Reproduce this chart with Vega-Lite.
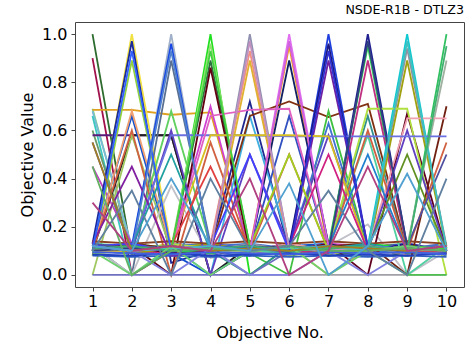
{
"$schema": "https://vega.github.io/schema/vega-lite/v6.json",
"width": 389, "height": 265,
"autosize": {"type": "none"},
"padding": {"left": 75, "top": 22, "right": 10, "bottom": 66},
"title": {"text": "NSDE-R1B - DTLZ3", "anchor": "end", "fontSize": 12.6, "fontWeight": "normal", "font": "DejaVu Sans", "color": "#000", "offset": 5, "dx": 0},
"config": {"view": {"stroke": "#444", "strokeWidth": 1}, "font": "DejaVu Sans",
 "axis": {"grid": false, "domain": false, "tickColor": "#444", "tickSize": 4, "labelFontSize": 16, "titleFontSize": 16, "titleFontWeight": "normal", "labelColor": "#000", "titleColor": "#000", "labelFont": "DejaVu Sans", "titleFont": "DejaVu Sans"}},
"data": {"values": [
{"s":1,"1":1.0,"2":0.08,"3":0.12,"4":0.1,"5":0.09,"6":0.11,"7":0.13,"8":0.1,"9":0.08,"10":0.12},
{"s":2,"1":0.9,"2":0.0,"3":0.1,"4":0.12,"5":0.1,"6":0.08,"7":0.11,"8":0.09,"9":0.12,"10":0.1},
{"s":3,"1":0.69,"2":0.1,"3":0.13,"4":0.08,"5":0.12,"6":0.1,"7":0.09,"8":0.12,"9":0.11,"10":0.09},
{"s":4,"1":0.68,"2":0.12,"3":0.09,"4":0.11,"5":0.1,"6":0.13,"7":0.08,"8":0.1,"9":0.12,"10":0.11},
{"s":5,"1":0.66,"2":0.0,"3":0.11,"4":0.1,"5":0.13,"6":0.09,"7":0.12,"8":0.08,"9":0.1,"10":0.13},
{"s":6,"1":0.45,"2":0.13,"3":0.1,"4":0.09,"5":0.11,"6":0.12,"7":0.1,"8":0.13,"9":0.09,"10":0.1},
{"s":7,"1":0.6,"2":0.09,"3":0.12,"4":0.13,"5":0.08,"6":0.1,"7":0.11,"8":0.12,"9":0.13,"10":0.08},
{"s":8,"1":0.685,"2":0.685,"3":0.665,"4":0.675,"5":0.1,"6":0.12,"7":0.09,"8":0.11,"9":0.1,"10":0.12},
{"s":9,"1":0.58,"2":0.58,"3":0.58,"4":0.0,"5":0.1,"6":0.11,"7":0.12,"8":0.1,"9":0.09,"10":0.11},
{"s":10,"1":0.1,"2":0.58,"3":0.58,"4":0.0,"5":0.12,"6":0.1,"7":0.11,"8":0.09,"9":0.12,"10":0.1},
{"s":11,"1":0.1,"2":1.0,"3":0.12,"4":0.09,"5":0.1,"6":0.11,"7":0.08,"8":0.12,"9":0.1,"10":0.09},
{"s":12,"1":0.13,"2":0.97,"3":0.05,"4":0.1,"5":0.12,"6":0.09,"7":0.11,"8":0.1,"9":0.13,"10":0.1},
{"s":13,"1":0.08,"2":0.89,"3":0.1,"4":0.12,"5":0.11,"6":0.1,"7":0.09,"8":0.13,"9":0.1,"10":0.11},
{"s":14,"1":0.12,"2":0.66,"3":0.09,"4":0.0,"5":0.1,"6":0.12,"7":0.13,"8":0.09,"9":0.11,"10":0.1},
{"s":15,"1":0.1,"2":0.68,"3":0.11,"4":0.1,"5":0.09,"6":0.13,"7":0.1,"8":0.12,"9":0.08,"10":0.12},
{"s":16,"1":0.0,"2":0.58,"3":0.1,"4":0.11,"5":0.12,"6":0.08,"7":0.1,"8":0.11,"9":0.12,"10":0.09},
{"s":17,"1":0.11,"2":0.1,"3":1.0,"4":0.09,"5":0.12,"6":0.1,"7":0.13,"8":0.08,"9":0.1,"10":0.12},
{"s":18,"1":0.09,"2":0.12,"3":0.96,"4":0.1,"5":0.08,"6":0.12,"7":0.1,"8":0.11,"9":0.13,"10":0.1},
{"s":19,"1":0.12,"2":0.0,"3":0.89,"4":0.13,"5":0.1,"6":0.09,"7":0.12,"8":0.1,"9":0.09,"10":0.11},
{"s":20,"1":0.13,"2":0.1,"3":0.68,"4":0.12,"5":0.1,"6":0.11,"7":0.09,"8":0.12,"9":0.1,"10":0.13},
{"s":21,"1":0.12,"2":0.0,"3":0.37,"4":0.07,"5":0.1,"6":0.09,"7":0.12,"8":0.21,"9":0.0,"10":0.1},
{"s":22,"1":0.1,"2":0.11,"3":0.09,"4":1.0,"5":0.0,"6":0.12,"7":0.1,"8":0.13,"9":0.11,"10":0.1},
{"s":23,"1":0.12,"2":0.09,"3":0.11,"4":0.96,"5":0.1,"6":0.1,"7":0.12,"8":0.09,"9":0.1,"10":0.12},
{"s":24,"1":0.09,"2":0.13,"3":0.1,"4":0.89,"5":0.12,"6":0.11,"7":0.08,"8":0.1,"9":0.12,"10":0.1},
{"s":25,"1":0.11,"2":0.1,"3":0.12,"4":0.7,"5":0.09,"6":0.1,"7":0.13,"8":0.12,"9":0.09,"10":0.11},
{"s":26,"1":0.1,"2":0.12,"3":0.0,"4":0.86,"5":0.1,"6":0.13,"7":0.1,"8":0.11,"9":0.1,"10":0.09},
{"s":27,"1":0.1,"2":0.09,"3":0.12,"4":0.1,"5":1.0,"6":0.11,"7":0.1,"8":0.12,"9":0.09,"10":0.1},
{"s":28,"1":0.12,"2":0.1,"3":0.1,"4":0.13,"5":0.93,"6":0.09,"7":0.12,"8":0.1,"9":0.11,"10":0.13},
{"s":29,"1":0.09,"2":0.12,"3":0.11,"4":0.1,"5":0.89,"6":0.12,"7":0.0,"8":0.11,"9":0.1,"10":0.09},
{"s":30,"1":0.11,"2":0.13,"3":0.09,"4":0.12,"5":0.72,"6":0.1,"7":0.11,"8":0.09,"9":0.12,"10":0.1},
{"s":31,"1":0.13,"2":0.1,"3":0.12,"4":0.0,"5":0.66,"6":0.13,"7":0.09,"8":0.12,"9":0.1,"10":0.12},
{"s":32,"1":0.1,"2":0.12,"3":0.1,"4":0.11,"5":0.09,"6":1.0,"7":0.12,"8":0.1,"9":0.13,"10":0.1},
{"s":33,"1":0.12,"2":0.1,"3":0.13,"4":0.09,"5":0.11,"6":0.95,"7":0.1,"8":0.12,"9":0.1,"10":0.11},
{"s":34,"1":0.09,"2":0.11,"3":0.1,"4":0.12,"5":0.1,"6":0.89,"7":0.13,"8":0.09,"9":0.12,"10":0.1},
{"s":35,"1":0.11,"2":0.09,"3":0.12,"4":0.1,"5":0.66,"6":0.72,"7":0.655,"8":0.71,"9":0.1,"10":0.12},
{"s":36,"1":0.13,"2":0.1,"3":0.11,"4":0.12,"5":0.1,"6":0.66,"7":0.1,"8":0.13,"9":0.09,"10":0.11},
{"s":37,"1":0.1,"2":0.11,"3":0.09,"4":0.1,"5":0.12,"6":0.1,"7":1.0,"8":0.11,"9":0.1,"10":0.12},
{"s":38,"1":0.12,"2":0.1,"3":0.12,"4":0.11,"5":0.1,"6":0.12,"7":0.96,"8":0.1,"9":0.13,"10":0.1},
{"s":39,"1":0.09,"2":0.12,"3":0.1,"4":0.13,"5":0.11,"6":0.09,"7":0.89,"8":0.12,"9":0.1,"10":0.11},
{"s":40,"1":0.11,"2":0.13,"3":0.11,"4":0.1,"5":0.09,"6":0.0,"7":0.68,"8":0.1,"9":0.12,"10":0.1},
{"s":41,"1":0.1,"2":0.09,"3":0.13,"4":0.12,"5":0.13,"6":0.11,"7":0.63,"8":0.09,"9":0.11,"10":0.13},
{"s":42,"1":0.12,"2":0.1,"3":0.1,"4":0.09,"5":0.1,"6":0.13,"7":0.1,"8":1.0,"9":0.12,"10":0.1},
{"s":43,"1":0.1,"2":0.12,"3":0.11,"4":0.1,"5":0.12,"6":0.1,"7":0.12,"8":0.95,"9":0.1,"10":0.11},
{"s":44,"1":0.11,"2":0.1,"3":0.09,"4":0.12,"5":0.11,"6":0.1,"7":0.09,"8":0.89,"9":0.11,"10":0.12},
{"s":45,"1":0.09,"2":0.11,"3":0.12,"4":0.1,"5":0.0,"6":0.12,"7":0.11,"8":0.66,"9":0.09,"10":0.1},
{"s":46,"1":0.13,"2":0.12,"3":0.1,"4":0.11,"5":0.1,"6":0.09,"7":0.13,"8":0.58,"9":0.0,"10":0.12},
{"s":47,"1":0.1,"2":0.13,"3":0.1,"4":0.12,"5":0.1,"6":0.11,"7":0.1,"8":0.12,"9":1.0,"10":0.1},
{"s":48,"1":0.12,"2":0.1,"3":0.12,"4":0.1,"5":0.13,"6":0.1,"7":0.12,"8":0.1,"9":0.94,"10":0.12},
{"s":49,"1":0.11,"2":0.09,"3":0.11,"4":0.13,"5":0.1,"6":0.12,"7":0.11,"8":0.09,"9":0.89,"10":0.11},
{"s":50,"1":0.1,"2":0.12,"3":0.09,"4":0.1,"5":0.12,"6":0.1,"7":0.13,"8":0.0,"9":0.67,"10":0.1},
{"s":51,"1":0.09,"2":0.1,"3":0.13,"4":0.11,"5":0.09,"6":0.13,"7":0.1,"8":0.69,"9":0.69,"10":0.0},
{"s":52,"1":0.1,"2":0.11,"3":0.1,"4":0.09,"5":0.12,"6":0.1,"7":0.11,"8":0.12,"9":0.1,"10":1.0},
{"s":53,"1":0.12,"2":0.1,"3":0.12,"4":0.1,"5":0.1,"6":0.12,"7":0.1,"8":0.1,"9":0.12,"10":0.89},
{"s":54,"1":0.11,"2":0.13,"3":0.11,"4":0.12,"5":0.11,"6":0.1,"7":0.12,"8":0.13,"9":0.0,"10":0.7},
{"s":55,"1":0.1,"2":0.1,"3":0.12,"4":0.11,"5":0.1,"6":0.13,"7":0.1,"8":0.11,"9":0.65,"10":0.65},
{"s":56,"1":0.0,"2":0.0,"3":0.0,"4":0.0,"5":0.0,"6":0.1,"7":0.11,"8":0.12,"9":0.1,"10":0.09},
{"s":57,"1":0.1,"2":0.12,"3":0.1,"4":0.11,"5":0.0,"6":0.0,"7":0.0,"8":0.0,"9":0.0,"10":0.0},
{"s":58,"1":0.12,"2":0.1,"3":0.11,"4":0.12,"5":0.1,"6":0.11,"7":0.12,"8":0.1,"9":0.0,"10":0.0},
{"s":59,"1":0.1,"2":0.6,"3":0.0,"4":0.55,"5":0.1,"6":0.5,"7":0.1,"8":0.6,"9":0.1,"10":0.55},
{"s":60,"1":0.55,"2":0.1,"3":0.6,"4":0.0,"5":0.5,"6":0.12,"7":0.58,"8":0.1,"9":0.6,"10":0.1},
{"s":61,"1":0.1,"2":0.12,"3":0.58,"4":0.58,"5":0.58,"6":0.575,"7":0.575,"8":0.575,"9":0.575,"10":0.575},
{"s":62,"1":0.1,"2":0.1,"3":0.12,"4":0.58,"5":0.58,"6":0.58,"7":0.575,"8":0.1,"9":0.12,"10":0.1},
{"s":63,"1":0.1,"2":0.12,"3":0.1,"4":0.66,"5":0.685,"6":0.69,"7":0.1,"8":0.12,"9":0.1,"10":0.11},
{"s":64,"1":0.14,"2":0.13,"3":0.14,"4":0.13,"5":0.14,"6":0.13,"7":0.14,"8":0.13,"9":0.14,"10":0.13},
{"s":65,"1":0.08,"2":0.075,"3":0.08,"4":0.075,"5":0.08,"6":0.075,"7":0.08,"8":0.075,"9":0.08,"10":0.075},
{"s":66,"1":0.13,"2":0.45,"3":0.08,"4":0.1,"5":0.12,"6":0.1,"7":0.11,"8":0.1,"9":0.12,"10":0.1},
{"s":67,"1":0.1,"2":0.12,"3":0.5,"4":0.1,"5":0.12,"6":0.1,"7":0.11,"8":0.13,"9":0.1,"10":0.12},
{"s":68,"1":0.11,"2":0.1,"3":0.12,"4":0.45,"5":0.1,"6":0.12,"7":0.1,"8":0.11,"9":0.1,"10":0.1},
{"s":69,"1":0.12,"2":0.13,"3":0.1,"4":0.12,"5":0.5,"6":0.1,"7":0.12,"8":0.1,"9":0.11,"10":0.12},
{"s":70,"1":0.1,"2":0.11,"3":0.12,"4":0.1,"5":0.12,"6":0.5,"7":0.1,"8":0.12,"9":0.1,"10":0.11},
{"s":71,"1":0.12,"2":0.1,"3":0.11,"4":0.12,"5":0.1,"6":0.12,"7":0.5,"8":0.1,"9":0.12,"10":0.1},
{"s":72,"1":0.1,"2":0.12,"3":0.1,"4":0.11,"5":0.12,"6":0.1,"7":0.12,"8":0.5,"9":0.1,"10":0.12},
{"s":73,"1":0.11,"2":0.1,"3":0.12,"4":0.1,"5":0.11,"6":0.12,"7":0.1,"8":0.11,"9":0.5,"10":0.1},
{"s":74,"1":0.13,"2":0.11,"3":0.1,"4":0.12,"5":0.1,"6":0.11,"7":0.12,"8":0.1,"9":0.12,"10":0.5},
{"s":75,"1":0.1,"2":0.93,"3":0.1,"4":0.12,"5":0.11,"6":0.1,"7":0.12,"8":0.11,"9":0.1,"10":0.12},
{"s":76,"1":0.12,"2":0.1,"3":0.93,"4":0.11,"5":0.1,"6":0.12,"7":0.1,"8":0.12,"9":0.11,"10":0.1},
{"s":77,"1":0.11,"2":0.12,"3":0.1,"4":0.93,"5":0.12,"6":0.1,"7":0.11,"8":0.1,"9":0.12,"10":0.11},
{"s":78,"1":0.1,"2":0.11,"3":0.12,"4":0.1,"5":0.97,"6":0.11,"7":0.1,"8":0.12,"9":0.1,"10":0.12},
{"s":79,"1":0.12,"2":0.1,"3":0.11,"4":0.12,"5":0.1,"6":0.97,"7":0.12,"8":0.1,"9":0.11,"10":0.1},
{"s":80,"1":0.11,"2":0.12,"3":0.1,"4":0.11,"5":0.12,"6":0.1,"7":0.93,"8":0.11,"9":0.1,"10":0.12},
{"s":81,"1":0.1,"2":0.11,"3":0.12,"4":0.1,"5":0.11,"6":0.12,"7":0.1,"8":0.97,"9":0.12,"10":0.1},
{"s":82,"1":0.12,"2":0.1,"3":0.11,"4":0.12,"5":0.1,"6":0.11,"7":0.12,"8":0.1,"9":0.97,"10":0.11},
{"s":83,"1":0.11,"2":0.12,"3":0.1,"4":0.11,"5":0.12,"6":0.1,"7":0.11,"8":0.12,"9":0.1,"10":0.95},
{"s":84,"1":0.1,"2":0.0,"3":0.12,"4":0.0,"5":0.1,"6":0.12,"7":0.0,"8":0.1,"9":0.12,"10":0.1},
{"s":85,"1":0.12,"2":0.1,"3":0.0,"4":0.11,"5":0.0,"6":0.0,"7":0.1,"8":0.0,"9":0.1,"10":0.12},
{"s":86,"1":0.085,"2":0.08,"3":0.09,"4":0.08,"5":0.085,"6":0.09,"7":0.08,"8":0.085,"9":0.08,"10":0.09},
{"s":87,"1":0.095,"2":0.09,"3":0.085,"4":0.095,"5":0.09,"6":0.085,"7":0.095,"8":0.09,"9":0.095,"10":0.085},
{"s":88,"1":0.55,"2":0.1,"3":0.12,"4":0.1,"5":0.11,"6":0.1,"7":0.12,"8":0.11,"9":0.1,"10":0.12},
{"s":89,"1":0.45,"2":0.0,"3":0.1,"4":0.11,"5":0.1,"6":0.12,"7":0.1,"8":0.1,"9":0.11,"10":0.1},
{"s":90,"1":0.1,"2":0.35,"3":0.0,"4":0.4,"5":0.1,"6":0.12,"7":0.35,"8":0.1,"9":0.0,"10":0.4},
{"s":91,"1":0.3,"2":0.1,"3":0.12,"4":0.1,"5":0.4,"6":0.0,"7":0.1,"8":0.45,"9":0.1,"10":0.12},
{"s":92,"1":0.12,"2":0.1,"3":0.4,"4":0.12,"5":0.1,"6":0.38,"7":0.0,"8":0.12,"9":0.42,"10":0.1}
]},
"transform": [{"fold": ["1","2","3","4","5","6","7","8","9","10"], "as": ["o","v"]}],
"mark": {"type": "line", "strokeWidth": 1.8},
"encoding": {
 "x": {"field": "o", "type": "ordinal", "scale": {"type": "point", "domain": ["1","2","3","4","5","6","7","8","9","10"], "padding": 0.445},
  "axis": {"title": "Objective No.", "labelAngle": 0, "labelPadding": 2, "titlePadding": 15}},
 "y": {"field": "v", "type": "quantitative", "scale": {"domain": [-0.05, 1.05], "nice": false, "zero": false},
  "axis": {"values": [0, 0.2, 0.4, 0.6, 0.8, 1.0], "format": ".1f", "title": "Objective Value", "labelPadding": 4, "titlePadding": 6}},
 "color": {"field": "s", "type": "nominal", "legend": null,
  "scale": {"domain": [1,2,3,4,5,6,7,8,9,10,11,12,13,14,15,16,17,18,19,20,21,22,23,24,25,26,27,28,29,30,31,32,33,34,35,36,37,38,39,40,41,42,43,44,45,46,47,48,49,50,51,52,53,54,55,56,57,58,59,60,61,62,63,64,65,66,67,68,69,70,71,72,73,74,75,76,77,78,79,80,81,82,83,84,85,86,87,88,89,90,91,92],
   "range": ["#2e6b2e","#a0104a","#7fd67f","#7ab8d9","#3cc8c0","#c040c0","#6a9a6a","#e0a020","#5a1a7a","#202020","#f0e040","#1a2a9a","#90d040","#1050d0","#f0a070","#a0c860","#a0b0c8","#1848e0","#5a7090","#60d060","#c0c0c8","#20e020","#90e070","#307040","#d040d0","#600010","#9090b0","#f09080","#e0b030","#202890","#40b0e0","#e070f0","#f0a020","#102060","#803010","#3050c0","#2040e0","#1a1a80","#7020a0","#40c040","#4070d0","#202090","#30d050","#c03080","#309090","#50d0a0","#10c8d0","#9090a0","#a0a010","#600020","#b0e040","#30c060","#a0b0a0","#702010","#f0a0b0","#7070c0","#a0a0a8","#50c050","#d06040","#6040c0","#6a70e0","#d8c020","#e060c0","#8a4020","#3060c0","#8020a0","#20a0a0","#e04040","#4040ff","#a0d020","#d02080","#2080d0","#609020","#5050a0","#3060ff","#5080d0","#40d040","#c090c0","#d060e0","#3030d0","#304080","#40c0c0","#40b070","#70d070","#8080e0","#2040c0","#4060e0","#a08020","#60b060","#6080a0","#b04080","#50a0d0"]}},
 "order": {"value": null}
}
}
